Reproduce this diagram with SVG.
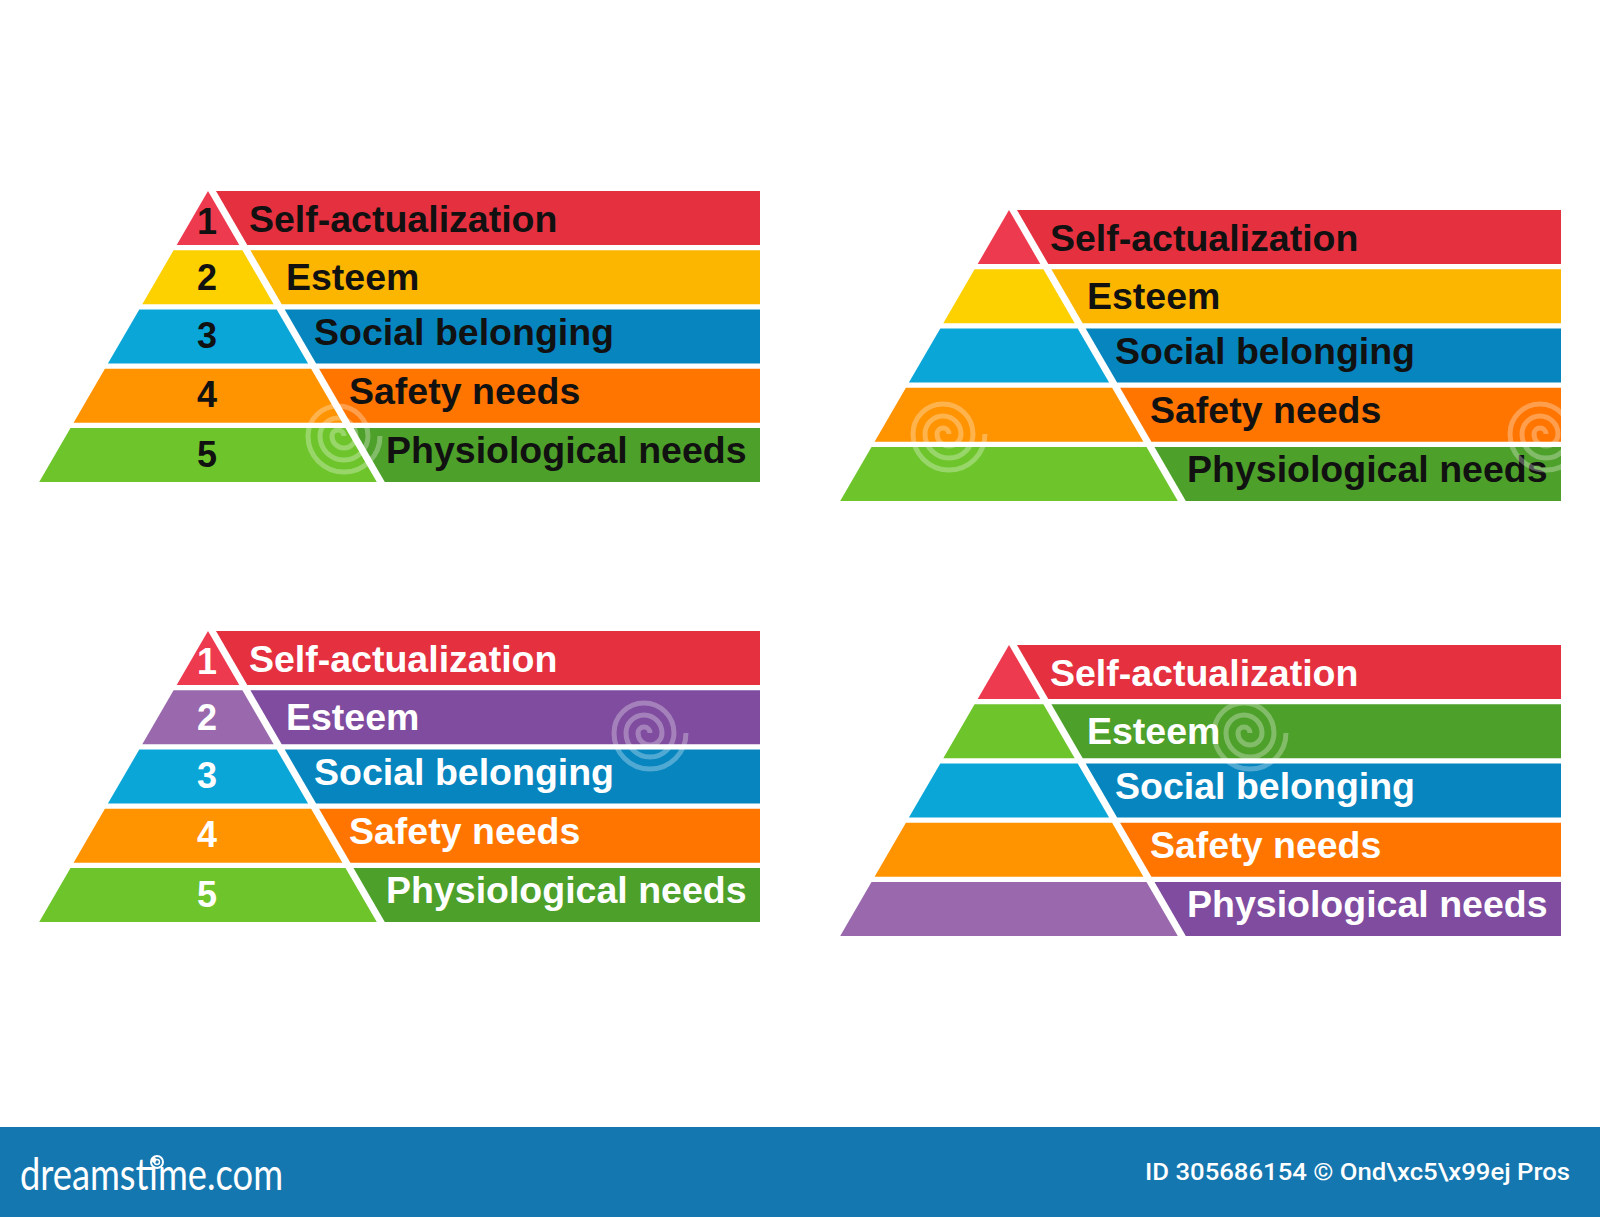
<svg xmlns="http://www.w3.org/2000/svg" width="1600" height="1217" viewBox="0 0 1600 1217">
<defs>
<style>
.lbl{font-family:"Liberation Sans",Arial,sans-serif;font-weight:bold;font-size:37.5px}
.num{font-family:"Liberation Sans",Arial,sans-serif;font-weight:bold;font-size:36px;text-anchor:middle}
.dk{fill:#111}
.wt{fill:#fff}
.redL{fill:#EE3A4F}.redR{fill:#E5303F}
.yelL{fill:#FDD000}.yelR{fill:#FCB600}
.bluL{fill:#0AA6D8}.bluR{fill:#0785BF}
.orgL{fill:#FF9300}.orgR{fill:#FF7500}
.grnL{fill:#6DC52B}.grnR{fill:#4DA02A}
.purL{fill:#9A69AD}.purR{fill:#7F4C9F}
.wm{fill:none;stroke:#fff;stroke-width:5;opacity:0.3}
</style>
<path id="spiral" d="M36,0 A36,36 0 0 1 -36,0 A30,30 0 0 1 24,0 A24,24 0 0 1 -24,0 A18,18 0 0 1 12,0 A12,12 0 0 1 -12,0 A6,6 0 0 1 0,0"/>
</defs>
<rect x="0" y="0" width="1600" height="1217" fill="#fff"/>

<!-- Pyramid 1: top-left -->
<g id="pyramid-tl" transform="translate(208,191)">
 <g id="tl-1">
  <polygon class="redL" points="0,0 31.3,54 -31.3,54"/>
  <polygon class="redR" points="8,0 552,0 552,54 39.3,54"/>
  <text class="num dk" x="-1" y="43">1</text>
  <text class="lbl dk" x="41" y="41">Self-actualization</text>
 </g>
 <g id="tl-2">
  <polygon class="yelL" points="-34.4,59.25 34.4,59.25 65.7,113.25 -65.7,113.25"/>
  <polygon class="yelR" points="42.4,59.25 552,59.25 552,113.25 73.7,113.25"/>
  <text class="num dk" x="-1" y="99">2</text>
  <text class="lbl dk" x="78" y="99">Esteem</text>
 </g>
 <g id="tl-3">
  <polygon class="bluL" points="-68.7,118.5 68.7,118.5 100.1,172.5 -100.1,172.5"/>
  <polygon class="bluR" points="76.7,118.5 552,118.5 552,172.5 108.1,172.5"/>
  <text class="num dk" x="-1" y="157">3</text>
  <text class="lbl dk" x="106" y="154">Social belonging</text>
 </g>
 <g id="tl-4">
  <polygon class="orgL" points="-103.1,177.75 103.1,177.75 134.4,231.75 -134.4,231.75"/>
  <polygon class="orgR" points="111.1,177.75 552,177.75 552,231.75 142.4,231.75"/>
  <text class="num dk" x="-1" y="216">4</text>
  <text class="lbl dk" x="141" y="213">Safety needs</text>
 </g>
 <g id="tl-5">
  <polygon class="grnL" points="-137.5,237 137.5,237 168.8,291 -168.8,291"/>
  <polygon class="grnR" points="145.5,237 552,237 552,291 176.8,291"/>
  <text class="num dk" x="-1" y="276">5</text>
  <text class="lbl dk" x="178" y="272">Physiological needs</text>
 </g>
</g>

<!-- Pyramid 2: top-right -->
<g id="pyramid-tr" transform="translate(1009,210)">
 <g id="tr-1">
  <polygon class="redL" points="0,0 31.3,54 -31.3,54"/>
  <polygon class="redR" points="8,0 552,0 552,54 39.3,54"/>
  <text class="lbl dk" x="41" y="41">Self-actualization</text>
 </g>
 <g id="tr-2">
  <polygon class="yelL" points="-34.4,59.25 34.4,59.25 65.7,113.25 -65.7,113.25"/>
  <polygon class="yelR" points="42.4,59.25 552,59.25 552,113.25 73.7,113.25"/>
  <text class="lbl dk" x="78" y="99">Esteem</text>
 </g>
 <g id="tr-3">
  <polygon class="bluL" points="-68.7,118.5 68.7,118.5 100.1,172.5 -100.1,172.5"/>
  <polygon class="bluR" points="76.7,118.5 552,118.5 552,172.5 108.1,172.5"/>
  <text class="lbl dk" x="106" y="154">Social belonging</text>
 </g>
 <g id="tr-4">
  <polygon class="orgL" points="-103.1,177.75 103.1,177.75 134.4,231.75 -134.4,231.75"/>
  <polygon class="orgR" points="111.1,177.75 552,177.75 552,231.75 142.4,231.75"/>
  <text class="lbl dk" x="141" y="213">Safety needs</text>
 </g>
 <g id="tr-5">
  <polygon class="grnL" points="-137.5,237 137.5,237 168.8,291 -168.8,291"/>
  <polygon class="grnR" points="145.5,237 552,237 552,291 176.8,291"/>
  <text class="lbl dk" x="178" y="272">Physiological needs</text>
 </g>
</g>

<!-- Pyramid 3: bottom-left -->
<g id="pyramid-bl" transform="translate(208,631)">
 <g id="bl-1">
  <polygon class="redL" points="0,0 31.3,54 -31.3,54"/>
  <polygon class="redR" points="8,0 552,0 552,54 39.3,54"/>
  <text class="num wt" x="-1" y="43">1</text>
  <text class="lbl wt" x="41" y="41">Self-actualization</text>
 </g>
 <g id="bl-2">
  <polygon class="purL" points="-34.4,59.25 34.4,59.25 65.7,113.25 -65.7,113.25"/>
  <polygon class="purR" points="42.4,59.25 552,59.25 552,113.25 73.7,113.25"/>
  <text class="num wt" x="-1" y="99">2</text>
  <text class="lbl wt" x="78" y="99">Esteem</text>
 </g>
 <g id="bl-3">
  <polygon class="bluL" points="-68.7,118.5 68.7,118.5 100.1,172.5 -100.1,172.5"/>
  <polygon class="bluR" points="76.7,118.5 552,118.5 552,172.5 108.1,172.5"/>
  <text class="num wt" x="-1" y="157">3</text>
  <text class="lbl wt" x="106" y="154">Social belonging</text>
 </g>
 <g id="bl-4">
  <polygon class="orgL" points="-103.1,177.75 103.1,177.75 134.4,231.75 -134.4,231.75"/>
  <polygon class="orgR" points="111.1,177.75 552,177.75 552,231.75 142.4,231.75"/>
  <text class="num wt" x="-1" y="216">4</text>
  <text class="lbl wt" x="141" y="213">Safety needs</text>
 </g>
 <g id="bl-5">
  <polygon class="grnL" points="-137.5,237 137.5,237 168.8,291 -168.8,291"/>
  <polygon class="grnR" points="145.5,237 552,237 552,291 176.8,291"/>
  <text class="num wt" x="-1" y="276">5</text>
  <text class="lbl wt" x="178" y="272">Physiological needs</text>
 </g>
</g>

<!-- Pyramid 4: bottom-right -->
<g id="pyramid-br" transform="translate(1009,645)">
 <g id="br-1">
  <polygon class="redL" points="0,0 31.3,54 -31.3,54"/>
  <polygon class="redR" points="8,0 552,0 552,54 39.3,54"/>
  <text class="lbl wt" x="41" y="41">Self-actualization</text>
 </g>
 <g id="br-2">
  <polygon class="grnL" points="-34.4,59.25 34.4,59.25 65.7,113.25 -65.7,113.25"/>
  <polygon class="grnR" points="42.4,59.25 552,59.25 552,113.25 73.7,113.25"/>
  <text class="lbl wt" x="78" y="99">Esteem</text>
 </g>
 <g id="br-3">
  <polygon class="bluL" points="-68.7,118.5 68.7,118.5 100.1,172.5 -100.1,172.5"/>
  <polygon class="bluR" points="76.7,118.5 552,118.5 552,172.5 108.1,172.5"/>
  <text class="lbl wt" x="106" y="154">Social belonging</text>
 </g>
 <g id="br-4">
  <polygon class="orgL" points="-103.1,177.75 103.1,177.75 134.4,231.75 -134.4,231.75"/>
  <polygon class="orgR" points="111.1,177.75 552,177.75 552,231.75 142.4,231.75"/>
  <text class="lbl wt" x="141" y="213">Safety needs</text>
 </g>
 <g id="br-5">
  <polygon class="purL" points="-137.5,237 137.5,237 168.8,291 -168.8,291"/>
  <polygon class="purR" points="145.5,237 552,237 552,291 176.8,291"/>
  <text class="lbl wt" x="178" y="272">Physiological needs</text>
 </g>
</g>

<g id="connectors"></g>

<!-- faint watermark spirals -->
<g id="watermarks" class="wm">
 <use href="#spiral" x="344" y="436"/>
 <use href="#spiral" x="949" y="434"/>
 <use href="#spiral" x="1546" y="434"/>
 <use href="#spiral" x="650" y="733"/>
 <use href="#spiral" x="1250" y="733"/>
</g>

<!-- footer -->
<g id="footer">
 <rect x="0" y="1127" width="1600" height="90" fill="#1577AF"/>
 <text x="20" y="1190" font-family="Lato, 'DejaVu Sans', sans-serif" font-size="44" fill="#fff" textLength="263" lengthAdjust="spacingAndGlyphs">dreamstime.com</text>
 <circle cx="157" cy="1162" r="6" fill="none" stroke="#fff" stroke-width="2"/>
 <circle cx="157" cy="1162" r="2.5" fill="none" stroke="#fff" stroke-width="1.5"/>
 <text x="1145" y="1180" font-family="Roboto, 'Liberation Sans', sans-serif" font-weight="500" font-size="23" fill="#fff" textLength="425" lengthAdjust="spacingAndGlyphs">ID 305686154 © Ond\xc5\x99ej Pros</text>
</g>
</svg>
